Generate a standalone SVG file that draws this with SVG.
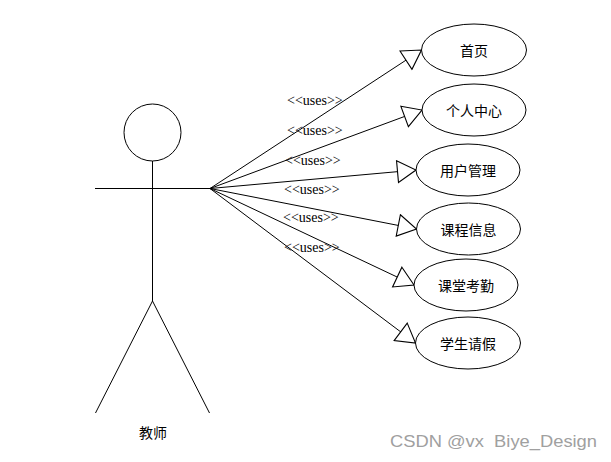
<svg xmlns="http://www.w3.org/2000/svg" width="611" height="462" viewBox="0 0 611 462">
<style>
.ln{stroke:#000;stroke-width:1;fill:none}
.uc{fill:#fff;stroke:#000;stroke-width:1}
.cn{font-family:"Noto Sans CJK SC","Noto Sans",sans-serif;font-size:14px;fill:#000;text-anchor:middle;dominant-baseline:central}
.us{font-family:"Liberation Serif","Times New Roman",serif;font-size:14px;fill:#000;dominant-baseline:central}
.wm{font-family:"Liberation Sans",Arial,sans-serif;font-size:17px;fill:#a0a0a0;white-space:pre}
</style>
<defs>
<marker id="tri" markerUnits="userSpaceOnUse" markerWidth="24" markerHeight="24" viewBox="0 0 22 22" refX="18" refY="11" orient="auto">
<path d="M1,1 L18,11 L1,21 Z" fill="#fff" stroke="#000" stroke-width="1"/>
</marker>
</defs>
<rect width="611" height="462" fill="#fff"/>
<g id="actor">
<circle class="ln" cx="152.5" cy="132.5" r="28.5"/>
<line class="ln" x1="152.5" y1="161" x2="152.5" y2="301"/>
<line class="ln" x1="95" y1="188.5" x2="210" y2="188.5"/>
<line class="ln" x1="152.5" y1="301" x2="95.5" y2="413"/>
<line class="ln" x1="152.5" y1="301" x2="209.5" y2="413"/>
<text class="cn" x="153" y="432">教师</text>
</g>
<g id="connectors">
<line class="ln" x1="210" y1="188.5" x2="421.5" y2="50" marker-end="url(#tri)"/>
<line class="ln" x1="210" y1="188.5" x2="422" y2="110" marker-end="url(#tri)"/>
<line class="ln" x1="210" y1="188.5" x2="416" y2="170" marker-end="url(#tri)"/>
<line class="ln" x1="210" y1="188.5" x2="416.5" y2="229" marker-end="url(#tri)"/>
<line class="ln" x1="210" y1="188.5" x2="414" y2="285" marker-end="url(#tri)"/>
<line class="ln" x1="210" y1="188.5" x2="415.5" y2="343" marker-end="url(#tri)"/>
<text class="us" x="287" y="100">&lt;&lt;uses&gt;&gt;</text>
<text class="us" x="287" y="130">&lt;&lt;uses&gt;&gt;</text>
<text class="us" x="285" y="160">&lt;&lt;uses&gt;&gt;</text>
<text class="us" x="284" y="189">&lt;&lt;uses&gt;&gt;</text>
<text class="us" x="283" y="217.5">&lt;&lt;uses&gt;&gt;</text>
<text class="us" x="284" y="247">&lt;&lt;uses&gt;&gt;</text>
</g>
<g id="uc1"><ellipse class="uc" cx="474" cy="50" rx="52.5" ry="26"/><text class="cn" x="474" y="50">首页</text></g>
<g id="uc2"><ellipse class="uc" cx="474" cy="110" rx="52" ry="26"/><text class="cn" x="474" y="110">个人中心</text></g>
<g id="uc3"><ellipse class="uc" cx="468" cy="170" rx="52" ry="26"/><text class="cn" x="468" y="170">用户管理</text></g>
<g id="uc4"><ellipse class="uc" cx="468.5" cy="229" rx="52" ry="26"/><text class="cn" x="468.5" y="229">课程信息</text></g>
<g id="uc5"><ellipse class="uc" cx="466" cy="285" rx="52" ry="26"/><text class="cn" x="466" y="285">课堂考勤</text></g>
<g id="uc6"><ellipse class="uc" cx="468" cy="343" rx="52.5" ry="26"/><text class="cn" x="468" y="343">学生请假</text></g>
<text class="wm" x="390" y="447" textLength="207" lengthAdjust="spacingAndGlyphs">CSDN @vx&#160; Biye_Design</text>
</svg>
